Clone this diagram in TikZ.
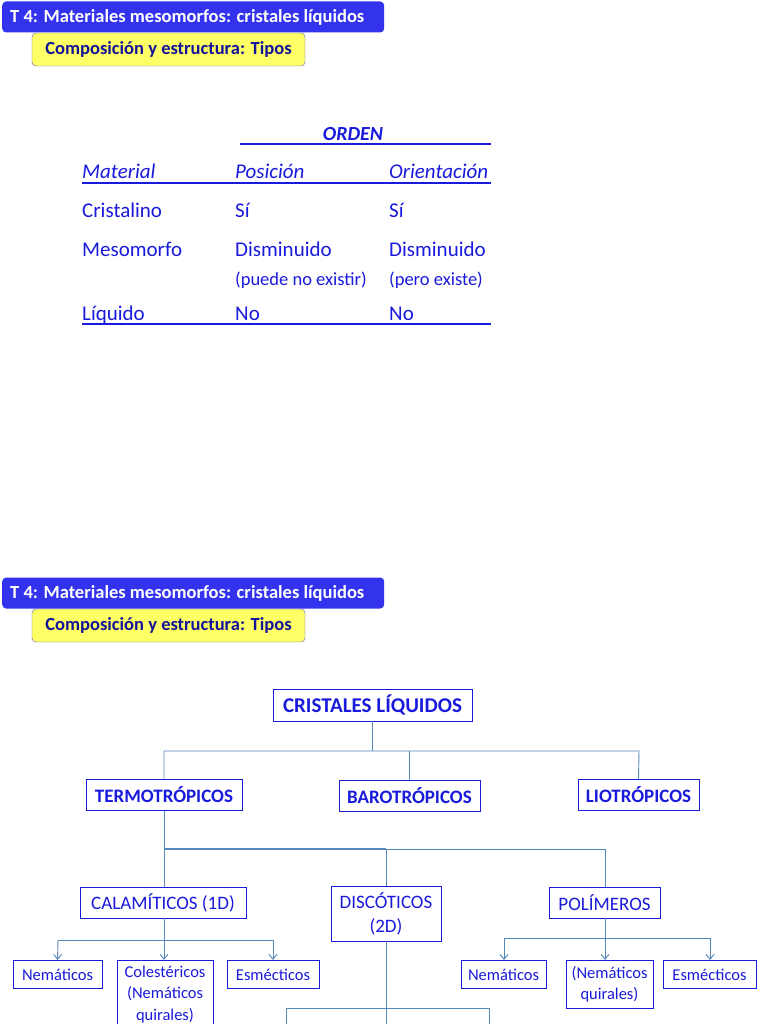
\documentclass[tikz,border=0pt]{standalone}
\usepackage{fontspec}
\setmainfont{Carlito}
\usetikzlibrary{arrows.meta}
\definecolor{tb}{HTML}{1A1ADD}
\definecolor{hb}{HTML}{3333EE}
\definecolor{yl}{HTML}{FFFF66}
\definecolor{dk}{HTML}{14149A}
\definecolor{ln}{HTML}{5588BB}
\newcommand{\fs}[1]{\fontsize{#1}{1.2\dimexpr#1pt\relax}\selectfont}
\tikzset{
 hdr/.style={fill=hb,rounded corners=4pt,anchor=west,inner sep=0pt},
 hdrt/.style={text=white,font=\fs{18.5}\bfseries,anchor=west,inner sep=0pt},
 sub/.style={fill=yl,draw=dk!70,rounded corners=4pt,text=dk,font=\fs{18.5}\bfseries,inner sep=0pt},
 tx/.style={text=tb,anchor=base west,font=\fs{21}\selectfont,inner sep=0pt},
 sm/.style={text=tb,anchor=base west,font=\fs{18.5}\selectfont,inner sep=0pt},
 bx/.style={draw=tb,thick,text=tb,fill=white,inner sep=0pt,align=center},
 con/.style={draw=ln,line width=0.9pt},
 arr/.style={con,-{Straight Barb[length=5pt,width=8pt]}},
}
\newcommand{\header}[1]{%
 \node[hdr,minimum width=382pt,minimum height=31pt] (h#1) at (2,17+#1) {};
 \node[hdrt] (ht#1) at (10,17+#1) {T 4: Materiales mesomorfos: cristales líquidos};
 \node[sub,minimum width=273pt,minimum height=33pt] (s#1) at (168.5,49.5+#1) {Composición y estructura: Tipos};}
\begin{document}
\begin{tikzpicture}[x=1pt,y=-1pt]
\useasboundingbox[fill=white] (0,0) rectangle (768,1024);
\header{0}
\header{576}
% table
\node[text=tb,font=\fs{20}\bfseries\itshape] (orden) at (353,134) {ORDEN};
\draw[tb,line width=1.2pt] (240,144) coordinate (o1) -- (491,144) coordinate (o2);
\node[tx] (m) at (82,179) {\itshape Material};
\node[tx] (p) at (235,179) {\itshape Posición};
\node[tx] (o) at (389,179) {\itshape Orientación};
\draw[tb,line width=1.2pt] (82,183) coordinate (l1) -- (491,183) coordinate (l2);
\node[tx] (c1) at (82,218) {Cristalino};
\node[tx] (c2) at (235,218) {Sí};
\node[tx] (c3) at (389,218) {Sí};
\node[tx] (d1) at (82,256) {Mesomorfo};
\node[tx] (d2) at (235,256) {Disminuido};
\node[tx] (d3) at (389,256) {Disminuido};
\node[sm] (e2) at (235,285) {(puede no existir)};
\node[sm] (e3) at (389,285) {(pero existe)};
\node[tx] (f1) at (82,320) {Líquido};
\node[tx] (f2) at (235,320) {No};
\node[tx] (f3) at (389,320) {No};
\draw[tb,line width=1.2pt] (82,324) coordinate (b1) -- (491,324) coordinate (b2);
% tree
\begin{scope}[every node/.append style={bx}]
\node[font=\fs{21}\bfseries,minimum width=199pt,minimum height=32pt] (cl) at (372.5,705) {CRISTALES LÍQUIDOS};
\node[font=\fs{19}\bfseries,minimum width=156pt,minimum height=31pt] (te) at (164,795) {TERMOTRÓPICOS};
\node[font=\fs{19}\bfseries,minimum width=141pt,minimum height=31pt] (ba) at (409.5,796) {BAROTRÓPICOS};
\node[font=\fs{19}\bfseries,minimum width=121pt,minimum height=31pt] (li) at (638.5,795) {LIOTRÓPICOS};
\node[font=\fs{19},minimum width=166pt,minimum height=31pt] (ca) at (163,902.5) {CALAMÍTICOS (1D)};
\node[font=\fontsize{19}{24}\selectfont,minimum width=110pt,minimum height=55pt] (di) at (386,913.5) {DISCÓTICOS\\(2D)};
\node[font=\fs{19},minimum width=111pt,minimum height=31pt] (po) at (604.5,902.5) {POLÍMEROS};
\node[font=\fs{16.5},minimum width=89pt,minimum height=28pt,anchor=north] (n1) at (57.5,960) {Nemáticos};
\node[font=\fontsize{16.5}{21.5}\selectfont,minimum width=96pt,minimum height=68pt,anchor=north] (n2) at (165,960) {Colestéricos\\(Nemáticos\\quirales)};
\node[font=\fs{16.5},minimum width=92pt,minimum height=28pt,anchor=north] (n3) at (273,960) {Esmécticos};
\node[font=\fs{16.5},minimum width=85pt,minimum height=28pt,anchor=north] (p1) at (503.5,960) {Nemáticos};
\node[font=\fontsize{16.5}{21.5}\selectfont,minimum width=87pt,minimum height=48pt,anchor=north] (p2) at (609.5,960) {(Nemáticos\\quirales)};
\node[font=\fs{16.5},minimum width=93pt,minimum height=28pt,anchor=north] (p3) at (709.5,960) {Esmécticos};
\end{scope}
\coordinate (j1) at (372.5,751);
\draw[con] (cl.south) -- (j1);
\draw[con] (te.north) -- (164,751) -- (639,751) -- (li.north);
\draw[con] (409.5,751) -- (ba.north);
\coordinate (j2) at (164,849);
\draw[con] (te.south) -- (j2);
\draw[con] (ca.north -| j2) -- (164,849) -- (605,849) -- (po.north -| 605,0);
\draw[con,line width=1.6pt] (164,849) -- (386,849);
\draw[con] (386,849) -- (di.north);
\coordinate (j3) at (164,940);
\draw[con] (ca.south -| j3) -- (j3);
\draw[con] (58,940) -- (273,940);
\draw[arr] (58,940) -- (n1.north);
\draw[arr] (j3) -- (n2.north -| j3);
\draw[arr] (273,940) -- (n3.north);
\coordinate (j4) at (386,1008);
\draw[con] (di.south) -- (j4);
\draw[con] (286,1024) -- (286,1008) -- (489,1008) -- (489,1024);
\draw[con] (j4) -- (386,1024);
\coordinate (j5) at (605,938);
\draw[con] (po.south -| j5) -- (j5);
\draw[con] (504,938) -- (710,938);
\draw[arr] (504,938) -- (504,960);
\draw[arr] (j5) -- (605,960);
\draw[arr] (710,938) -- (710,960);
\end{tikzpicture}
\end{document}
